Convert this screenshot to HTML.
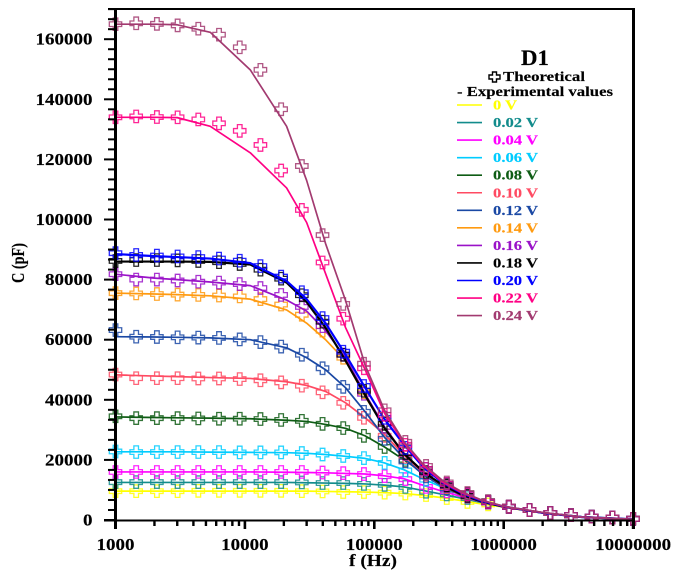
<!DOCTYPE html>
<html>
<head>
<meta charset="utf-8">
<style>
html,body{margin:0;padding:0;background:#fff;width:685px;height:575px;overflow:hidden}
svg{display:block;filter:blur(0.3px)}
text{font-family:"Liberation Serif",serif;font-weight:bold;stroke:currentColor;stroke-width:0.15px}
</style>
</head>
<body>
<svg id="chart" xmlns="http://www.w3.org/2000/svg" width="685" height="575" viewBox="0 0 685 575">
  <g id="series-layer"></g>
  <g id="axes-layer"></g>
  <text x="373" y="566" font-size="17" text-anchor="middle" textLength="48" lengthAdjust="spacingAndGlyphs">f (Hz)</text>
  <text transform="translate(24,263) rotate(-90)" font-size="18" text-anchor="middle" textLength="40" lengthAdjust="spacingAndGlyphs">C (pF)</text>
  <text x="535" y="65" font-size="22" text-anchor="middle" textLength="28" lengthAdjust="spacingAndGlyphs">D1</text>
  <path d="M492.500 72h4v3h3.500v4h-3.500v3h-4v-3h-3.500v-4h3.500z" fill="none" stroke="#000" stroke-width="1.400"/>
  <text x="503" y="81" font-size="14" textLength="82" lengthAdjust="spacingAndGlyphs">Theoretical</text>
  <text x="457" y="96" font-size="14" textLength="156" lengthAdjust="spacingAndGlyphs">- Experimental values</text>
  <g id="legend-layer"></g>
</svg>
<script>
// Data
var markerFreqs = [1000,1445,2089,3020,4365,6310,9120,13183,19055,27542,39811,57544,83176,120226,173780,251189,363078,524807,758578,1096478,1584893,2290868,3311311,4786301,6918310,10000000];
var lineFreqs = [1000,2000,3000,5400,11000,21000,30000,42000,60000,85000,120000,170000,240000,340000,480000,680000,1000000,2000000,4000000,10000000];
var yTicks = [0,20000,40000,60000,80000,100000,120000,140000,160000];
var xTicks = [1000,10000,100000,1000000,10000000];
var seriesNames = ["0 V","0.02 V","0.04 V","0.06 V","0.08 V","0.10 V","0.12 V","0.14 V","0.16 V","0.18 V","0.20 V","0.22 V","0.24 V"];
var seriesColors = ["#ffff00","#128c8c","#ff00ff","#00ccff","#0e5c14","#ff4a62","#1a48a4","#ff9a10","#9a12c8","#000000","#0000ff","#ff0084","#a23a70"];

var markers0  = [9600,9600,9600,9600,9700,9700,9700,9700,9700,9600,9500,9300,9300,9100,8800,8300,7300,6000,5200,4300,3300,2300,1600,1100,800,400];
var markers1  = [12600,12600,12600,12600,12600,12600,12600,12600,12600,12500,12300,12300,12000,11700,11000,9400,8500,7300,5800,4400,3300,2300,1600,1100,800,400];
var markers2  = [16000,16000,16000,16000,16000,16000,16000,16000,16000,16000,15800,15600,15300,14600,13600,11000,9500,7800,6000,4400,3300,2300,1600,1100,800,400];
var markers3  = [22800,22600,22600,22600,22600,22600,22500,22500,22500,22300,21800,21300,20600,19000,16500,13400,10600,8000,6200,4400,3300,2300,1600,1100,800,400];
var markers4  = [34500,33900,33900,33900,33800,33700,33700,33600,33300,33000,32000,30600,28000,24300,20000,15600,11500,8700,6200,4400,3300,2300,1600,1100,800,400];
var markers5  = [48400,47200,47200,47200,47100,47100,46900,46500,45800,44700,42500,39000,34000,28000,21000,15000,10800,7800,5800,4400,3300,2300,1600,1100,800,400];
var markers6  = [63200,61000,60900,60800,60700,60600,60100,59200,57700,55000,50500,44300,36000,27000,19500,14500,10500,7800,5800,4400,3300,2300,1600,1100,800,400];
var markers7  = [75500,75400,75200,75000,74900,74700,74400,73500,71700,68300,63000,54000,42500,31000,22000,15500,11000,7900,5900,4400,3300,2300,1600,1100,800,400];
var markers8  = [81800,80000,80000,79700,79300,79000,78500,77200,74900,70900,64500,55000,42000,31000,22000,15500,11200,7900,5900,4400,3300,2300,1600,1100,800,400];
var markers9  = [86200,86500,86500,86400,86200,85800,85200,83300,80300,74800,66000,55000,43000,32000,22300,16000,11500,8000,6000,4400,3300,2300,1600,1100,800,400];
var markers10 = [88800,88200,88000,87700,87500,87000,86300,84500,81000,75800,67200,56000,44600,34000,24000,17000,12000,8500,6000,4400,3300,2300,1600,1100,800,400];
var markers11 = [134000,134300,134100,134000,133300,132000,129500,124800,116300,103200,85700,67000,50500,35000,25000,17000,12000,8500,6000,4400,3300,2300,1600,1100,800,400];
var markers12 = [165000,165300,165100,164600,163500,161500,157300,149800,136700,117800,94800,71900,52000,36500,26000,18000,12500,9000,6300,4500,3300,2300,1600,1100,800,400];

var curve0  = [9600,9600,9600,9600,9600,9600,9600,9500,9400,9300,9100,8800,8200,7400,6400,5300,4300,2300,1000,200];
var curve1  = [12500,12500,12500,12500,12500,12500,12400,12300,12200,12000,11600,11000,9800,8500,7200,5800,4400,2400,1000,200];
var curve2  = [16000,16000,16000,16000,16000,15900,15800,15700,15500,15300,14700,13700,11500,9500,7700,6000,4400,2400,1000,200];
var curve3  = [22700,22700,22700,22600,22500,22400,22200,21800,21200,20500,19000,16700,13600,10800,8200,6200,4400,2400,1000,200];
var curve4  = [34300,34100,34000,33900,33700,33200,32800,31800,30500,28000,24300,20000,15600,11800,8800,6300,4500,2400,1000,200];
var curve5  = [48300,47900,47700,47400,47100,46000,44800,42800,39000,34000,28500,21500,15500,11200,8200,6000,4400,2400,1000,200];
var curve6  = [61000,60900,60800,60600,60000,57300,54000,50000,44000,36000,27500,20500,15000,11000,8000,6000,4400,2400,1000,200];
var curve7  = [75500,75200,75000,74600,73500,69900,65500,60000,53000,41000,31000,22000,15800,11300,8100,6000,4400,2400,1000,200];
var curve8  = [81800,80500,80000,79200,78000,73200,69500,63000,54000,42000,31000,22000,15800,11400,8200,6000,4400,2400,1000,200];
var curve9  = [86000,86000,86000,85900,85000,79000,72500,64000,53000,41500,30500,22000,16000,11500,8300,6100,4400,2400,1000,200];
var curve10 = [88500,87800,87500,87000,85500,79500,73500,65500,55000,44000,33500,25000,17500,12300,8800,6300,4500,2400,1000,200];
var curve11 = [134000,134000,133900,131000,122200,110500,99000,82000,64000,50000,35500,25500,18000,12500,9000,6500,4500,2500,1000,200];
var curve12 = [165000,165000,164800,162300,149800,131000,113000,92000,73000,51500,36500,26000,18500,13000,9300,6600,4600,2500,1000,200];

var allMarkers = [markers0,markers1,markers2,markers3,markers4,markers5,markers6,markers7,markers8,markers9,markers10,markers11,markers12];
var allCurves = [curve0,curve1,curve2,curve3,curve4,curve5,curve6,curve7,curve8,curve9,curve10,curve11,curve12];

// Axis functions
var NS = 'http://www.w3.org/2000/svg';
function xScale(f){ return 115.5 + (Math.log10(f) - 3) * 129.4; }
function yScale(c){ return 520 - c * 60.1 / 20000; }
function make(tag, parent, attrs){
  var el = document.createElementNS(NS, tag);
  for (var k in attrs) el.setAttribute(k, attrs[k]);
  parent.appendChild(el);
  return el;
}

var seriesLayer = document.getElementById('series-layer');
var axesLayer = document.getElementById('axes-layer');
var legendLayer = document.getElementById('legend-layer');

// Axes frame
var topLine = make('line', axesLayer, {x1:108, y1:9, x2:634, y2:9, stroke:'#000', 'stroke-width':2});


var rightLine = make('line', axesLayer, {x1:633.5, y1:8, x2:633.5, y2:529, stroke:'#000', 'stroke-width':3});


var yAxisLine = make('line', axesLayer, {x1:115.5, y1:8, x2:115.5, y2:529, stroke:'#000', 'stroke-width':3});


var xAxisLine = make('line', axesLayer, {x1:104, y1:520.5, x2:634, y2:520.5, stroke:'#000', 'stroke-width':2});



// Y ticks
for (var i = 0; i < yTicks.length; i++) {
  var yv = yTicks[i];
  var yTick = make('line', axesLayer, {x1:104, y1:yScale(yv), x2:115, y2:yScale(yv), stroke:'#000', 'stroke-width':2});
  
  
  var label = String(yv);
  var yLabel = make('text', axesLayer, {x:92.5, y:yScale(yv)+5.5, 'font-size':16.5, 'text-anchor':'end', textLength:label.length*9.5, lengthAdjust:'spacingAndGlyphs'});
  yLabel.textContent = label;
  
  
}
// Y minor ticks
for (var j = 1; j <= 51; j++) {
  if (j % 6 === 0) continue;
  var mv = j * 20000 / 6;
  var yMinor = make('line', axesLayer, {x1:108, y1:yScale(mv), x2:115, y2:yScale(mv), stroke:'#000', 'stroke-width':2});
  
  
}
// X ticks
for (var a = 0; a < xTicks.length; a++) {
  var xv = xTicks[a];
  var xTick = make('line', axesLayer, {x1:xScale(xv), y1:520, x2:xScale(xv), y2:529, stroke:'#000', 'stroke-width':2.6});
  
  
  var xText = String(xv);
  var xLabel = make('text', axesLayer, {x:xScale(xv), y:550, 'font-size':16.5, 'text-anchor':'middle', textLength:xText.length*9.5, lengthAdjust:'spacingAndGlyphs'});
  xLabel.textContent = xText;
  
  
  if (a < xTicks.length - 1) {
    for (var m = 2; m <= 9; m++) {
      var xMinor = make('line', axesLayer, {x1:xScale(xv*m), y1:520, x2:xScale(xv*m), y2:526, stroke:'#000', 'stroke-width':2.4});
      
      
    }
  }
}

// Series
function plusPath(cx, cy){
  var a = 2.3, b = 6.2;
  return 'M'+(cx-a)+' '+(cy-b)+'h'+(2*a)+'v'+(b-a)+'h'+(b-a)+'v'+(2*a)+'h'+(a-b)+'v'+(b-a)+'h'+(-2*a)+'v'+(a-b)+'h'+(a-b)+'v'+(-2*a)+'h'+(b-a)+'z';
}
for (var s = 0; s < seriesNames.length; s++) {
  var color = seriesColors[s];
  var d = '';
  for (var p = 0; p < allMarkers[s].length; p++) {
    d += plusPath(xScale(markerFreqs[p]), yScale(allMarkers[s][p]));
  }
  var markerPath = make('path', seriesLayer, {d:d, fill:'none', stroke:color, 'stroke-width':1.3, opacity:0.85});
  
  
  var pts = [];
  for (var q = 0; q < lineFreqs.length; q++) {
    pts.push(xScale(lineFreqs[q]).toFixed(2)+','+yScale(allCurves[s][q]).toFixed(2));
  }
  var curve = make('polyline', seriesLayer, {points:pts.join(' '), fill:'none', stroke:color, 'stroke-width':(s===9||s===10)?2.2:1.7, 'stroke-linejoin':'round'});
  
  

  // Legend entry
  var ly = 105 + s * 17.55;
  var swatch = make('line', legendLayer, {x1:457, y1:ly, x2:482, y2:ly, stroke:color, 'stroke-width':1.6});
  
  
  var name = seriesNames[s];
  var tw = name.length === 3 ? 24 : 45;
  var legendText = make('text', legendLayer, {x:493, y:ly+4.5, 'font-size':14, fill:color, color:color, textLength:tw, lengthAdjust:'spacingAndGlyphs'});
  legendText.textContent = name;
  
  
}
</script>
</body>
</html>
